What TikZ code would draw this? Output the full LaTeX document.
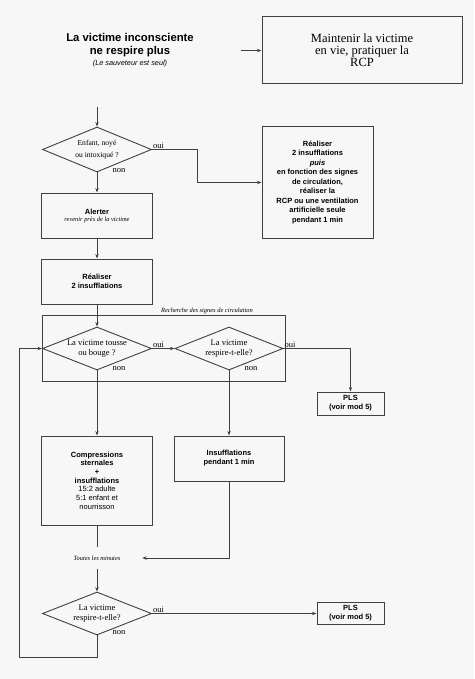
\documentclass[tikz,border=0pt]{standalone}
\usepackage{fontspec}
\setmainfont{Liberation Serif}
\setsansfont{Liberation Sans}
\usetikzlibrary{arrows.meta,shapes.geometric,calc}
\definecolor{lc}{HTML}{404040}
\definecolor{bg}{HTML}{F7F7F7}
\tikzset{
  ln/.style={draw=lc, line width=0.9pt},
  arr/.style={ln, -{Stealth[length=4.5pt,width=3.4pt]}},
  box/.style={draw=lc, line width=1pt, rectangle, inner sep=0pt, align=center,
    font=\sffamily\bfseries\fontsize{7.5}{9.5}\selectfont},
  dia/.style={draw=lc, line width=0.9pt, diamond, shape aspect=2.45, inner sep=0pt,
    align=center, minimum width=109pt, minimum height=43pt,
    font=\rmfamily\fontsize{8.5}{10.5}\selectfont},
  lbl/.style={font=\rmfamily\fontsize{8.5}{10}\selectfont, inner sep=1pt},
  note/.style={font=\rmfamily\itshape\fontsize{6.4}{7}\selectfont, inner sep=1pt},
}
\begin{document}
\begin{tikzpicture}[x=1pt,y=-1pt]
\fill[bg] (0,0) rectangle (474,679);
\useasboundingbox (0,0) rectangle (474,679);

% title
\node[align=center, font=\sffamily\bfseries\fontsize{11.3}{13}\selectfont] (title) at (130,45.5) {La victime inconsciente\\ne respire plus};
\node[font=\sffamily\itshape\fontsize{7.3}{9}\selectfont, inner sep=0pt] (sub) at (130,63.5) {(Le sauveteur est seul)};

\node[box, font=\rmfamily\fontsize{12.5}{12}\selectfont, minimum width=200pt, minimum height=67pt] (maint) at (362,50.5) {Maintenir la victime\\en vie, pratiquer la\\RCP};
\coordinate (m0) at (241,50.5);
\draw[arr] (m0) -- (maint.west);

% first decision
\coordinate (s0) at (97,107);
\node[dia, minimum height=45pt, font=\rmfamily\fontsize{7.6}{11.4}\selectfont] (d1) at (97,149.5) {Enfant, noyé\\ou intoxiqué ?};
\draw[arr] (s0) -- (d1.north);
\node[lbl, anchor=south west] (d1oui) at (d1.east) {oui};
\node[lbl] (d1non) at ([xshift=22pt,yshift=2pt]d1.south) {non};

\node[box, minimum width=111pt, minimum height=111pt] (b2) at (317.5,182.5) {Réaliser\\2 insufflations\\\textit{puis}\\en fonction des signes\\de circulation,\\réaliser la\\RCP ou une ventilation\\artificielle seule\\pendant 1 min};
\draw[arr] (d1.east) -- ++(45,0) |- (b2.west);

\node[box, minimum width=111pt, minimum height=45pt] (al) at (97,215.5) {Alerter\\[-2.5pt]{\rmfamily\mdseries\itshape\fontsize{6.4}{7}\selectfont revenir près de la victime}};
\draw[arr] (d1.south) -- (al.north);

\node[box, minimum width=111pt, minimum height=45pt, font=\sffamily\bfseries\fontsize{7.5}{9}\selectfont] (r2) at (97,281.5) {Réaliser\\2 insufflations};
\draw[arr] (al.south) -- (r2.north);

% frame
\node[draw=lc, line width=1pt, minimum width=243pt, minimum height=66pt, inner sep=0pt] (frame) at (163.5,348) {};
\node[note, anchor=south] (frlbl) at (207,315) {Recherche des signes de circulation};

\node[dia] (d2) at (97,348.5) {La victime tousse\\ou bouge ?};
\draw[arr] (r2.south) -- (d2.north);
\node[lbl, anchor=south west] (d2oui) at (d2.east) {oui};
\node[lbl] (d2non) at ([xshift=22pt,yshift=2pt]d2.south) {non};

\node[dia, minimum width=108pt] (d3) at (229,348.5) {La victime\\respire-t-elle?};
\draw[arr] (d2.east) -- (d3.west);
\node[lbl, anchor=south west] (d3oui) at (d3.east) {oui};
\node[lbl] (d3non) at ([xshift=22pt,yshift=2pt]d3.south) {non};

\node[box, minimum width=67pt, minimum height=23pt, font=\sffamily\bfseries\fontsize{7.5}{9}\selectfont] (pls1) at (350.5,403.5) {PLS\\(voir mod 5)};
\draw[arr] (d3.east) -| (pls1.north);

\node[box, minimum width=111pt, minimum height=89pt, font=\sffamily\bfseries\fontsize{7.5}{8.7}\selectfont] (comp) at (97,480.5) {Compressions\\sternales\\+\\insufflations\\{\mdseries 15:2 adulte}\\{\mdseries 5:1 enfant et}\\{\mdseries nourrisson}};
\draw[arr] (d2.south) -- (comp.north);

\node[box, minimum width=110pt, minimum height=45pt, font=\sffamily\bfseries\fontsize{7.5}{9}\selectfont] (insu) at (229,458.5) {Insufflations\\pendant 1 min};
\draw[arr] (d3.south) -- (insu.north);

\node[note, minimum width=90pt, minimum height=22pt, inner sep=0pt] (tm) at (97,558) {Toutes les minutes};
\draw[ln] (comp.south) -- (tm.north);
\draw[arr] (insu.south) |- (tm.east);

\node[dia] (d4) at (97,613.5) {La victime\\respire-t-elle?};
\draw[arr] (tm.south) -- (d4.north);
\node[lbl, anchor=south west] (d4oui) at (d4.east) {oui};
\node[lbl] (d4non) at ([xshift=22pt,yshift=3pt]d4.south) {non};

\node[box, minimum width=67pt, minimum height=22pt, font=\sffamily\bfseries\fontsize{7.5}{9}\selectfont] (pls2) at (350.5,613) {PLS\\(voir mod 5)};
\draw[arr] (d4.east) -- (d4.east -| pls2.west);

\coordinate (lp) at (19,657);
\draw[arr] (d4.south) |- (lp) |- (d2.west);
\end{tikzpicture}
\end{document}
